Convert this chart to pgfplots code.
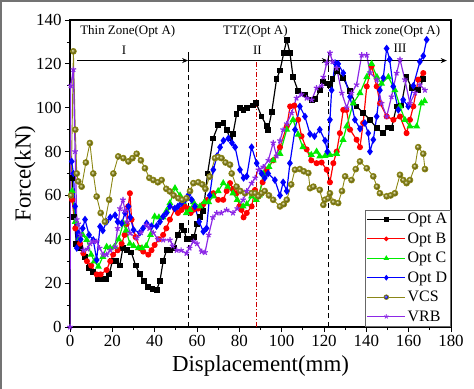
\documentclass[border=0pt]{standalone}
\usepackage{fontspec}
\setmainfont{Liberation Serif}
\usepackage{pgfplots}
\pgfplotsset{compat=1.18}
\usetikzlibrary{arrows.meta}
\definecolor{cA}{RGB}{0,0,0}
\definecolor{cB}{RGB}{255,0,0}
\definecolor{cC}{RGB}{0,235,0}
\definecolor{cD}{RGB}{0,0,255}
\definecolor{cE}{RGB}{140,135,20}
\definecolor{cF}{RGB}{140,40,230}
\begin{document}
\begin{tikzpicture}
\begin{axis}[
  scale only axis, width=381bp, height=307bp,
  xmin=0,xmax=180,ymin=0,ymax=140,
  xtick={0,20,...,180}, ytick={0,20,...,140},
  minor x tick num=1, minor y tick num=1,
  tick align=outside, xtick pos=bottom, ytick pos=left,
  major tick length=5bp, minor tick length=3bp,
  tick style={line width=0.8pt, black},
  axis line style={line width=1.2pt},
  ticklabel style={font=\fontsize{17}{18}\selectfont},
  /pgf/number format/assume math mode=true,
  xlabel={Displacement(mm)}, ylabel={Force(kN)},
  label style={font=\fontsize{23}{24}\selectfont},
  x label style={at={(axis description cs:0.5,-0.127)},anchor=center},
  y label style={at={(axis description cs:-0.118,0.5)},anchor=center},
  legend style={at={(1,0.002)}, anchor=south east, draw=black!60, line width=0.8pt,
     font=\fontsize{16}{18}\selectfont, inner sep=1.5pt, row sep=3.4bp, cells={anchor=west}},
  legend image code/.code={\draw[#1, line width=0.8pt, mark options={scale=0.8}, mark repeat=2, mark phase=2] plot coordinates {(0bp,0bp) (19bp,0bp) (38bp,0bp)};},
  every axis plot/.append style={line width=1.2pt},
]
% Opt A
\addplot[cA, mark=square*, mark size=2.3pt] coordinates {
(1,68)(2,50)(3,38)(5,36)(7,32)(9,27)(11,25)(13,22)(15,22)(17,22)(18.5,24)(20,30)(22,30)(23.5,28)(25,36)(27,35)(29,34)(31,28)(33,24)(35,21)(37,18.3)(39,17.5)(41,17)(42.5,21)(44,30)(45.6,35)(47.5,35)(49,36)(51,42)(52.7,46)(54,44)(55,40)(57,40)(58.5,41)(60,47)(61.4,50)(63,53)(65,70)(67.6,86)(70,92)(72.5,93)(74,90)(75.6,86)(77,88)(78.7,97)(80.3,100)(82,99)(83.5,100)(86.5,101)(88,102)(90.5,96)(93,91.5)(93.6,90)(95.3,98)(97.6,113)(99.2,117)(101,125)(102.4,131)(103.9,125)(105.4,114)(107.8,107.5)(111,106)(114.2,103.6)(116,104)(118,108)(119.7,112)(121.3,111)(122.8,110.5)(124,113)(126,116.6)(129,113.6)(132.3,107.5)(135.4,100.6)(138.5,97.6)(141.7,94.5)(144.9,90.7)(148,88.4)(150,91)(151.9,90.7)(154.3,100.6)(156.5,101)(159,114)(161.4,109)(164.5,108)(166.9,113)
};
\addlegendentry{Opt A}
% Opt B
\addplot[cB, mark=*, mark size=2.4pt] coordinates {
(1,58)(2.5,45)(4.7,38)(6.3,33.6)(8,30)(10,28)(12.6,24)(14.5,24)(17.3,26)(19,30)(20.4,33)(22.5,35)(24.4,38)(25.8,42)(26.8,47)(27.5,55)(28.3,61)(29.1,49)(31,41)(33,36)(34.6,34.4)(37,33)(38.5,35)(40,37.4)(42,40)(44,42)(45.5,45)(47.2,49)(49.6,54)(51,52)(52.7,53.4)(54.2,55)(55.8,54)(57,52)(58.3,53.4)(60.5,54)(63,56)(65,58)(67.7,61)(70,58)(72.4,58)(74,62)(75.6,65.6)(77,63)(78.7,61)(80,55)(81,53.4)(82,50)(83.5,52)(85.8,55)(87.4,62.5)(89,60)(91,66)(92.9,71.7)(96,76)(99.2,82)(102.4,91.5)(104,100.6)(106,101)(107.8,94.5)(109.4,87)(111.8,81)(114,76)(116.5,74.7)(118.9,75)(121.3,71.7)(122.8,66)(124.4,74.7)(126,80)(127.5,88.4)(129.1,99)(130.6,99)(132.3,90)(135.4,85.4)(137,82)(138.5,93)(140.2,109.7)(142.5,119)(144.9,109.7)(146.5,102)(149.6,96)(152.8,94.5)(155.9,96)(159,88.4)(160.6,94.5)(162.2,100.6)(164.5,112.8)(166.9,115.8)
};
\addlegendentry{Opt B}
% Opt C
\addplot[cC, mark=triangle*, mark size=2.9pt] coordinates {
(1,62)(2.5,48)(4.7,40.6)(6,42)(7.9,39.7)(10,33)(11.5,30)(13.4,27.5)(15.5,32)(17.3,36.6)(19,36)(21,36.6)(23,40)(25.2,47.3)(26.5,44)(28.3,38)(30,37)(32.3,36)(34,36)(36,37)(38,42)(40,50.4)(42,50)(44,50)(45.6,53)(47.2,56.5)(49.6,63.3)(52,60)(53.5,57)(55,52)(56.7,53.4)(58.3,57)(61.4,55)(63.5,57)(65.5,57)(67.7,59.6)(70,62)(72.4,65.6)(74.5,64)(77,61)(79,58)(81.8,55)(83.5,56)(85.8,59.6)(88,58)(89.5,60)(91.3,70)(94,73)(96,76)(99.2,79)(102.4,90)(105.4,94.5)(107.8,87.7)(110,82)(114,78.5)(116.5,80)(118,77.8)(120.5,78)(122.8,78.5)(126,79)(129,85.4)(130.7,91.5)(133.8,102)(137,106.7)(140.2,114)(142.5,120)(145,114)(147.2,111)(150.4,114)(153.5,108)(155.9,100.6)(158.2,94.5)(160.6,91.5)(163.8,91.5)(166,102)(167.5,103)
};
\addlegendentry{Opt C}
% Opt D
\addplot[cD, mark=diamond*, mark size=2.9pt] coordinates {
(0.8,75.5)(1.6,70)(2.4,55)(3.2,36)(3.9,42.8)(5,40)(6,45)(7.1,49)(9,42)(11,39.7)(12.6,30.6)(14.2,45.8)(15.5,44)(17.3,48)(19,50)(21.3,51)(22.5,48)(24.4,47.3)(26,52)(27.6,55)(28.5,50)(30,44.3)(33,43)(34.5,45)(36.2,47.3)(38.5,46)(40.9,46)(42.5,48)(44,50.4)(45.6,52)(47.2,55)(49.5,54)(51,55)(52.7,56.5)(54.5,58)(56,60.3)(57.5,58)(59,55)(61,48)(63,43.5)(64.5,45)(66,60)(67.7,71.7)(69.5,78)(70.9,82)(72.5,85)(74.8,86)(76.5,84)(78,82)(80.3,71.7)(82,68)(83.5,68.7)(85.8,82)(88.2,74.7)(90.5,70)(92,68)(93.6,70)(96.8,67)(99.2,60)(100.7,66)(102.4,62)(103.9,74.7)(106.3,90)(108.6,100.6)(111,96)(113.4,88)(115.5,87)(118,90)(120.5,85)(121.6,80)(122.8,94.5)(123.6,108)(125.2,120.4)(126.7,120)(129.1,115.8)(132.3,105)(134.6,94.5)(137,90.4)(139.3,93)(140.9,88.4)(141.7,80)(143.3,85.4)(144.9,96)(146.4,108)(148,113.6)(149.6,127)(151,122)(152.7,109.7)(155.1,99)(157.4,103.6)(159.8,100.6)(162.2,110)(165.3,121)(166.9,123.6)(168.5,131)
};
\addlegendentry{Opt D}
% VCS
\addplot[cE, line width=0.9pt, mark=ball, mark size=2.9pt, mark options={ball color=cE}] coordinates {
(0.5,60)(1.6,125.7)(2.5,90)(3.2,70)(3.9,66.4)(5.5,64)(7.5,75)(9.4,83.9)(11,70)(12.6,59.5)(14.5,52)(16.5,48)(18.5,58)(20.5,70)(22.8,77.8)(25.2,77)(27.6,75.5)(29.5,77)(31.5,79)(33.5,76)(35.4,72.4)(37.5,68)(39.4,67)(41.5,66)(43.3,67)(45.5,63)(47.2,61.8)(49,60)(51.2,58.7)(53,58)(55,58.7)(56.7,62)(58.3,65.6)(60.6,66)(62.5,65)(64,63)(66,68.6)(68.5,77)(70,77.5)(71.6,77)(73.5,75)(75.6,74)(76.4,70)(78.7,64)(80.5,62)(82.7,61)(85.8,61)(87.5,61)(89,59.6)(90.5,61)(92,62)(94,60)(96,58)(99.2,55)(101,56)(102.4,58)(104.5,65)(106.3,71.7)(108.6,72)(110.5,71)(112.6,70.2)(113.4,63.3)(115,64)(118,62.5)(119.7,55.7)(120.4,58)(122,58.7)(122.8,61)(124.5,57)(126.7,56.5)(128.5,62)(130,68.7)(133,67)(135,72)(137,75.5)(140.2,72.4)(143.3,68.7)(145,64)(146.4,61)(149.6,59.6)(151.5,60)(153.5,61)(155.9,69.4)(157.5,67)(159,65.6)(160.6,67)(163,73.2)(164.5,82)(166.9,79)(167.7,72)
};
\addlegendentry{VCS}
% VRB
\addplot[cF, mark=star, mark size=2.9pt] coordinates {
(0,0)(0.3,110)(1.6,117.4)(2.4,80)(3.2,49)(3.9,47)(5,42)(6.3,35)(8.2,35.6)(9.5,38)(11,39)(12.6,39)(14,36)(15.7,33)(17.3,33)(19,35)(21.3,36.6)(22.5,45)(23.6,54)(25,58)(26,53)(27,48)(28.3,42.8)(31.5,40.6)(33.5,43)(36.2,46.6)(37.5,45)(39.4,43)(41.5,40)(44,39.7)(47.2,39.7)(48.5,37)(50.4,35)(52.5,35)(55,33.6)(56.5,36)(58.3,39)(60,38)(62.2,34.4)(63.8,34)(65.5,42)(67.5,50)(69.3,52)(71.5,52)(74,53.4)(77,52)(79,54)(81.8,58)(83.5,62)(85.8,65.6)(87.5,68)(89,71.7)(91.3,73)(93.7,76)(96,84)(97.6,78)(99.2,85)(100.7,90)(102.4,92.7)(104.7,97.6)(107,104.4)(109.4,106)(111.8,104.4)(114.2,103.6)(116.5,109)(118.9,110)(119.7,114)(121.3,120.4)(122.8,125)(124,121)(126,118)(128.4,106.7)(130.7,100)(133,106.7)(135.4,110.5)(137.8,124)(140.2,124)(141.7,116)(144.9,112.8)(147.2,102)(149.6,96)(151.9,105)(154.3,115.8)(155.9,122)(158.2,112.8)(160.6,102)(163,106.7)(165.3,110.5)(167.7,108)
};
\addlegendentry{VRB}
% zone lines
\draw[black, line width=1.3pt, dash pattern=on 5bp off 3.5bp] (axis cs:56,0) -- (axis cs:56,118);
\draw[black, line width=1.3pt, dash pattern=on 5bp off 3.5bp] (axis cs:122,0) -- (axis cs:122,118);
\draw[red!80!black, line width=0.9pt, dash pattern=on 5bp off 2bp on 1bp off 2bp] (axis cs:88,0) -- (axis cs:88,121.5);
\draw[line width=0.9pt] (axis cs:56,117.5) -- (axis cs:56,125.5);
\draw[line width=0.9pt] (axis cs:122,117.5) -- (axis cs:122,125.5);
\draw[line width=0.9pt, -{Stealth[length=6bp,width=5bp]}] (axis cs:3.5,121.5) -- (axis cs:55.8,121.5);
\draw[line width=0.9pt, -{Stealth[length=6bp,width=5bp]}] (axis cs:56,121.5) -- (axis cs:121.8,121.5);
\draw[line width=0.9pt, -{Stealth[length=6bp,width=5bp]}] (axis cs:122,121.5) -- (axis cs:178,121.5);
\node[font=\fontsize{13}{14}\selectfont, anchor=west] at (axis cs:3.2,135) {Thin Zone(Opt A)};
\node[font=\fontsize{13}{14}\selectfont] at (axis cs:87.6,135) {TTZ(Opt A)};
\node[font=\fontsize{13}{14}\selectfont] at (axis cs:151.6,135) {Thick zone(Opt A)};
\node[font=\fontsize{13}{14}\selectfont] at (axis cs:25.5,126.3) {I};
\node[font=\fontsize{13}{14}\selectfont] at (axis cs:88.5,126.3) {II};
\node[font=\fontsize{13}{14}\selectfont] at (axis cs:155.9,127) {III};
\end{axis}
\pgfresetboundingbox
\coordinate (BL) at ([shift={(-70bp,-62bp)}]current axis.south west);
\coordinate (TR) at ([shift={(23bp,20bp)}]current axis.north east);
\useasboundingbox (BL) rectangle (TR);
\fill[black!55] ([yshift=-2.5bp]BL |- TR) rectangle (TR);
\fill[black!55] (BL) rectangle ([xshift=2.5bp]BL |- TR);
\end{tikzpicture}
\end{document}
